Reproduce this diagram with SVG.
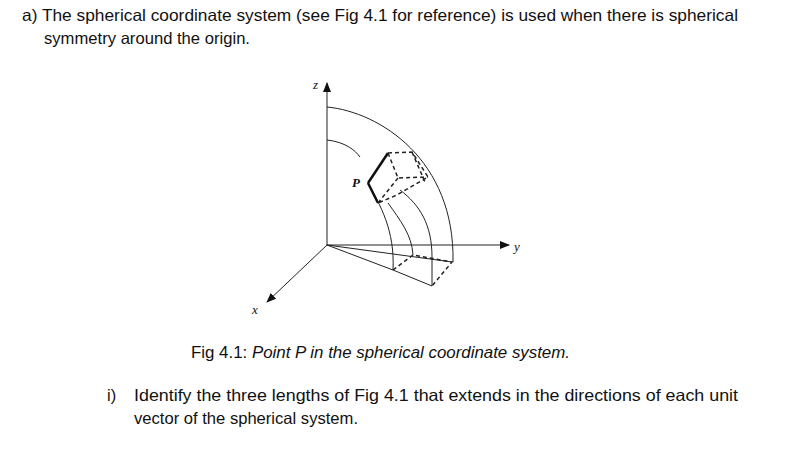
<svg xmlns="http://www.w3.org/2000/svg" width="812" height="461" viewBox="0 0 812 461">
<style>
text{font-family:"Liberation Sans",Arial,sans-serif;font-size:16.5px;fill:#111}
.l{fill:none;stroke:#222;stroke-width:1}
.d{fill:none;stroke:#222;stroke-width:1.5;stroke-dasharray:4 3}
.b{fill:none;stroke:#111;stroke-width:2.5}
.lab{font-family:"Liberation Serif",serif;font-style:italic;font-size:13px}
</style>
<defs><marker id="a" markerWidth="10" markerHeight="8" refX="9" refY="4" orient="auto" markerUnits="userSpaceOnUse"><path d="M0,0 L10,4 L0,8 z" fill="#111"/></marker></defs>
<rect width="812" height="461" fill="#fff"/>
<text x="22" y="21" textLength="716" lengthAdjust="spacingAndGlyphs">a) The spherical coordinate system (see Fig 4.1 for reference) is used when there is spherical</text>
<text x="44" y="44" textLength="206" lengthAdjust="spacingAndGlyphs">symmetry around the origin.</text>
<g id="axes">
<line class="l" x1="327" y1="245" x2="327" y2="83" stroke-width="1.5" marker-end="url(#a)"/>
<line class="l" x1="327" y1="245" x2="509" y2="245" stroke-width="1.5" marker-end="url(#a)"/>
<line class="l" x1="327" y1="245" x2="267" y2="302" stroke-width="1.5" marker-end="url(#a)"/>
<text class="lab" x="313" y="89">z</text><text class="lab" x="514" y="251">y</text><text class="lab" x="252" y="314">x</text>
<text class="lab" x="352" y="187" font-weight="bold">P</text>
</g>
<g id="surface">
<path class="l" d="M327,107 C380,112 455,160 453,262"/>
<path class="l" d="M327,140 C345,142 355,150 360,157"/>
<path class="l" d="M368,183 C380,205 395,230 393,270"/>
<path class="l" d="M388,203 C400,220 412,235 413,255"/>
<path class="l" d="M400,190 C420,205 432,225 432,257"/>
<line class="l" x1="432" y1="257" x2="432" y2="286"/>
<path class="l" d="M327,245 L393,270 L432,286"/>
<line class="l" x1="327" y1="245" x2="452" y2="262"/>
<path class="d" d="M393,270 L413,255 L452,262 L432,286"/>
</g>
<g id="box">
<path class="b" d="M368,183 L388,153 M368,183 L378,203"/>
<path class="d" d="M388,153 L412,152 L428,177 L397,195 L378,203 M388,153 L398,178 L428,177 M398,178 L378,203 M412,152 L425,182"/>
</g>
<text x="191" y="358" textLength="379" lengthAdjust="spacingAndGlyphs">Fig 4.1: <tspan font-style="italic">Point P in the spherical coordinate system.</tspan></text>
<text x="107" y="401">i)</text>
<text x="134" y="401" textLength="604" lengthAdjust="spacingAndGlyphs">Identify the three lengths of Fig 4.1 that extends in the directions of each unit</text>
<text x="134" y="424" textLength="224" lengthAdjust="spacingAndGlyphs">vector of the spherical system.</text>
</svg>
